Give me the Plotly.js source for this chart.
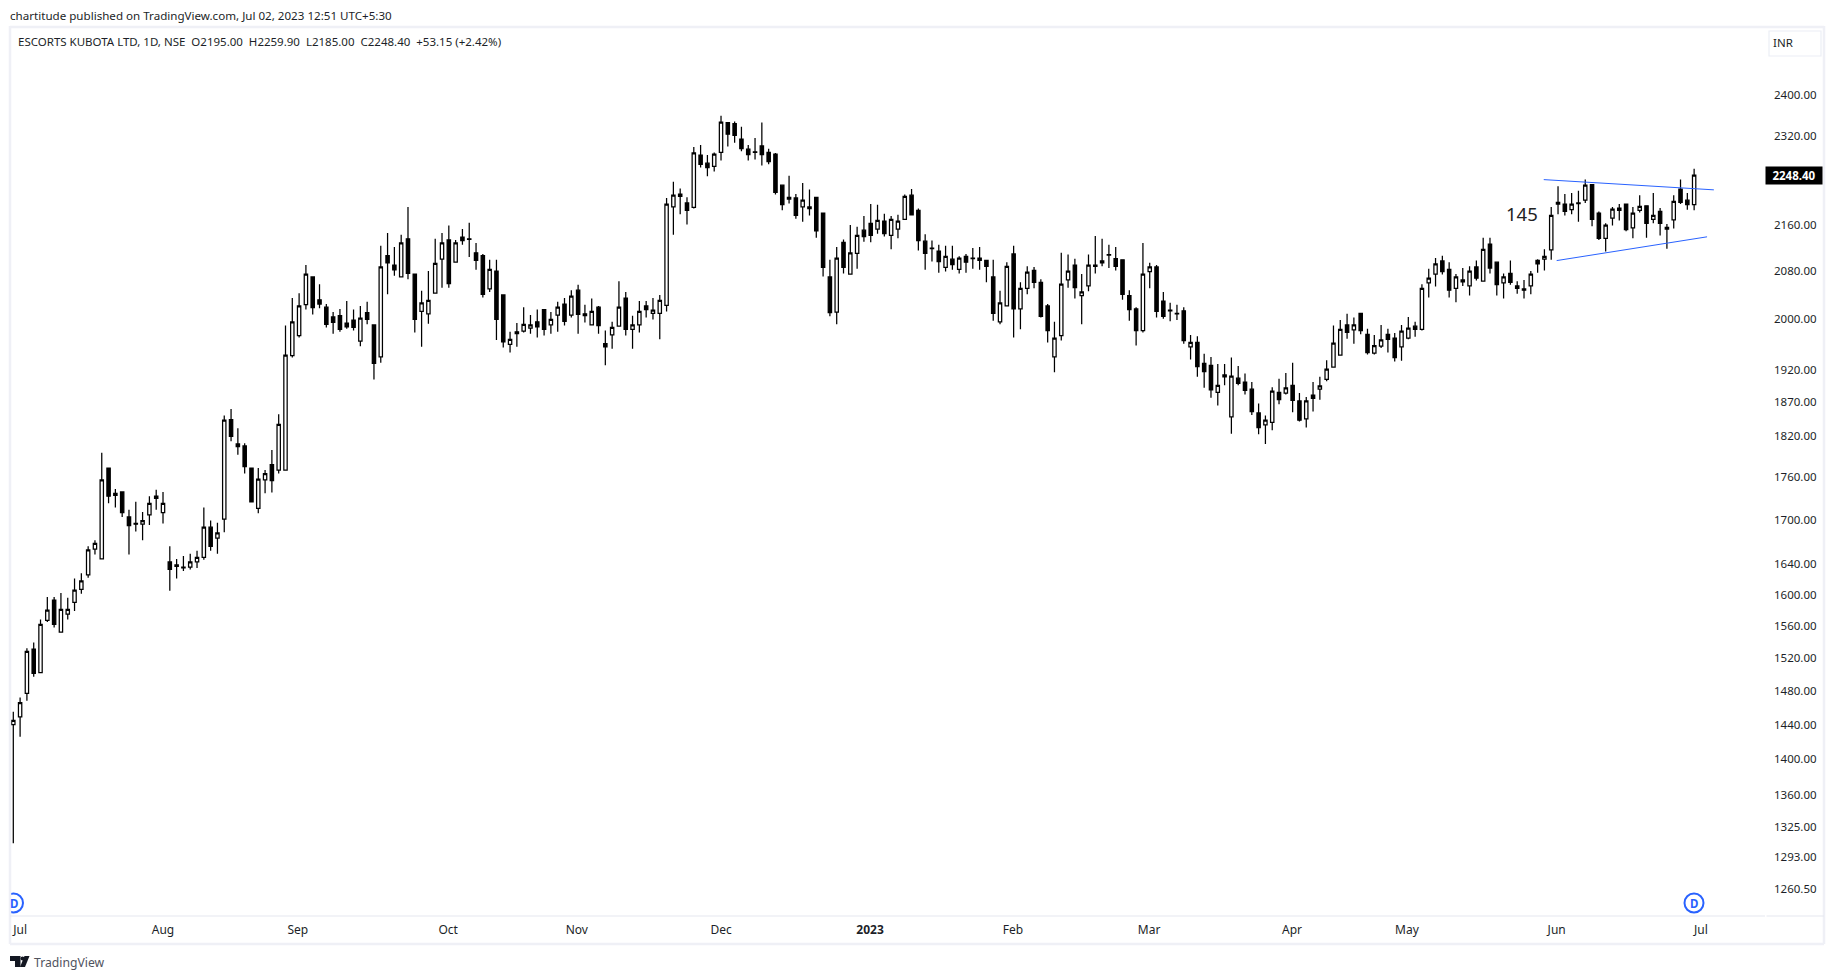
<!DOCTYPE html>
<html><head><meta charset="utf-8">
<script src="https://cdn.plot.ly/plotly-3.0.1.min.js"></script>
<style>html,body{margin:0;padding:0;background:#fff}#c{width:1835px;height:979px}</style>
</head><body><div id="c"></div>
<script>
const open=[1440,1449,1477,1531,1502,1567,1593,1552,1575,1590,
1607,1626,1660,1647,1773,1734,1739,1704,1695,1694,
1707,1730,1710,1643,1639,1636,1636,1643,1649,1690,
1675,1701,1844,1808,1805,1773,1716,1756,1778,1770,
1770,1942,1974,2024,2070,2032,2020,2004,2006,1994,
1999,1965,2011,1991,1940,2106,2090,2070,2135,2075,
2013,2009,2043,2100,2133,2095,2138,2135,2111,2106,
2050,2080,2040,1960,1980,1981,1986,1996,2016,1991,
2007,2025,2007,2048,2009,1991,2020,1961,1975,1989,
2035,1984,1991,2022,2010,2010,2023,2191,2210,2198,
2190,2285,2270,2264,2290,2346,2344,2315,2296,2291,
2302,2290,2287,2230,2205,2207,2191,2191,2208,2180,
2070,2012,2129,2075,2110,2150,2162,2152,2166,2141,
2152,2169,2212,2185,2131,2119,2114,2086,2100,2083,
2105,2102,2102,2098,2070,1996,2022,2109,2017,2051,
2081,2061,2022,1940,1974,2065,2090,2039,2055,2090,
2097,2108,2101,2099,2039,2017,1982,2079,2087,2030,
2015,2010,2014,1956,1963,1930,1927,1885,1912,1848,
1907,1901,1890,1854,1836,1840,1885,1884,1896,1872,
1845,1881,1890,1905,1924,1943,1991,1983,2010,1976,
1946,1957,1976,1970,1956,1970,1989,1984,2060,2075,
2097,2083,2051,2065,2055,2087,2063,2126,2095,2060,
2076,2055,2050,2055,2098,2100,2116,2199,2196,2186,
2198,2203,2231,2180,2136,2171,2189,2196,2154,2185,
2193,2169,2183,2152,2168,2223,2203,2195];
const close=[1445,1466,1528,1501,1562,1580,1562,1581,1581,1606,
1618,1659,1668,1756,1733,1737,1710,1692,1694,1699,
1723,1733,1723,1633,1637,1635,1643,1649,1690,1664,
1682,1843,1819,1804,1775,1725,1757,1765,1755,1837,
1943,1996,2022,2075,2019,2025,1992,1995,1984,1988,
1987,2002,2000,1930,2087,2094,2082,2128,2076,2000,
2027,2031,2093,2128,2059,2128,2132,2134,2098,2041,
2083,2000,1964,1968,1977,1992,1991,1988,1984,2000,
2020,1997,2038,2008,2006,2013,1990,1956,1987,2020,
1984,1991,2013,2016,2015,2031,2196,2212,2214,2185,
2289,2268,2262,2287,2347,2324,2322,2297,2286,2290,
2286,2273,2217,2195,2208,2176,2203,2188,2149,2086,
2011,2102,2086,2111,2141,2139,2141,2167,2144,2169,
2166,2210,2177,2132,2110,2118,2096,2105,2091,2102,
2095,2101,2098,2088,2010,2027,2088,2017,2051,2078,
2061,2005,1982,1970,2058,2080,2052,2045,2090,2088,
2094,2107,2088,2041,2016,1982,2075,2087,2013,2005,
2014,2009,1966,1963,1925,1917,1889,1896,1909,1910,
1899,1888,1856,1832,1843,1887,1874,1892,1873,1843,
1872,1876,1895,1921,1962,1984,1979,1991,1982,1947,
1958,1967,1968,1939,1981,1986,1984,2051,2068,2092,
2079,2048,2070,2062,2080,2068,2117,2085,2057,2070,
2061,2051,2048,2075,2092,2105,2176,2196,2183,2196,
2197,2230,2169,2136,2159,2187,2185,2151,2180,2192,
2162,2176,2162,2155,2201,2199,2195,2248.4];
const high=[1455,1472,1532,1539,1568,1597,1597,1602,1596,1621,
1628,1664,1672,1795,1773,1743,1739,1714,1725,1711,
1733,1742,1739,1664,1647,1651,1654,1658,1717,1699,
1696,1850,1860,1831,1809,1773,1773,1770,1799,1852,
1990,2035,2043,2090,2070,2058,2025,2012,2017,2030,
2016,2022,2029,1991,2123,2145,2121,2142,2191,2075,
2047,2080,2135,2145,2158,2133,2152,2163,2128,2109,
2099,2099,2040,1980,1994,2020,2007,2016,2016,2012,
2029,2035,2048,2057,2024,2034,2022,1982,1996,2063,
2045,2006,2030,2030,2035,2040,2207,2236,2224,2208,
2300,2304,2285,2290,2359,2346,2348,2338,2304,2317,
2346,2297,2289,2230,2247,2214,2234,2222,2208,2180,
2099,2121,2134,2159,2156,2175,2196,2195,2179,2175,
2177,2213,2223,2188,2143,2132,2125,2123,2123,2105,
2109,2119,2121,2098,2099,2047,2095,2123,2061,2088,
2087,2066,2025,1996,2111,2108,2101,2075,2108,2140,
2135,2125,2121,2099,2048,2020,2128,2094,2090,2045,
2027,2024,2020,1975,1973,1945,1940,1929,1929,1939,
1926,1914,1901,1868,1850,1893,1906,1915,1931,1884,
1878,1901,1909,1935,1990,1999,2009,2003,2010,1985,
1975,1991,1985,1978,1991,2004,1996,2058,2084,2102,
2106,2095,2075,2085,2088,2098,2137,2137,2095,2076,
2098,2063,2065,2080,2100,2117,2191,2228,2214,2216,
2220,2240,2232,2183,2162,2191,2196,2196,2191,2212,
2194,2216,2189,2161,2212,2240,2216,2259.9];
const low=[1308,1426,1468,1497,1502,1565,1558,1552,1568,1579,
1601,1622,1653,1647,1723,1717,1704,1653,1684,1672,
1693,1714,1695,1605,1621,1631,1633,1635,1646,1658,
1654,1683,1812,1792,1765,1724,1709,1737,1738,1765,
1770,1939,1971,2016,2008,2018,1987,1977,1980,1985,
1982,1957,1992,1905,1931,2041,2072,2070,2066,1979,
1956,1993,2043,2052,2052,2095,2125,2104,2082,2036,
2045,1967,1955,1947,1956,1979,1977,1971,1974,1977,
1980,1990,2003,1977,1995,1991,1977,1927,1953,1989,
1974,1953,1979,2003,2000,1968,2013,2142,2178,2160,
2188,2262,2246,2255,2275,2301,2308,2292,2275,2277,
2266,2268,2213,2185,2197,2170,2165,2176,2137,2071,
2005,1992,2076,2075,2084,2130,2129,2144,2139,2117,
2136,2169,2177,2115,2082,2096,2077,2079,2082,2076,
2077,2084,2082,2061,1998,1992,2022,1971,1984,2041,
2051,2003,1963,1916,1966,2052,2034,1992,2046,2076,
2088,2085,2081,2032,1998,1958,1979,2051,2003,2001,
1997,1999,1961,1936,1909,1892,1877,1865,1896,1823,
1896,1882,1851,1822,1808,1828,1867,1882,1855,1841,
1832,1856,1874,1902,1924,1943,1969,1961,1976,1944,
1944,1954,1947,1933,1934,1968,1972,1982,2036,2054,
2074,2036,2028,2055,2039,2064,2063,2076,2039,2034,
2057,2042,2034,2041,2077,2081,2099,2178,2176,2178,
2165,2198,2157,2133,2113,2158,2167,2148,2136,2181,
2137,2162,2141,2118,2153,2196,2186,2185];
const sessions=open.map((_,i)=>i);

const priceTicks=[2400,2320,2160,2080,2000,1920,1870,1820,1760,1700,1640,1600,1560,1520,1480,1440,1400,1360,1325,1293,1260.5];
const monthTickPos=[1,22,41.8,63.9,82.8,104,125.9,146.9,166.9,187.9,204.8,226.8,248];
const monthTickText=['Jul','Aug','Sep','Oct','Nov','Dec','<b>2023</b>','Feb','Mar','Apr','May','Jun','Jul'];

const upperTrendX=[224.9,249.9], upperTrendY=[2240,2221.5];
const lowerTrendX=[226.8,248.9], lowerTrendY=[2097.7,2138.5];

const FONT='"Noto Sans", sans-serif';
const TXT='#1c1f28';
const L=11,R=1765,T=28,B=916;
const px=x=>(x-L)/(R-L), py=y=>1-(y-T)/(B-T);
const FRAME='#eff0f6';
const rule=(x0,y0,x1,y1,c,w)=>({type:'line',xref:'paper',yref:'paper',x0:px(x0),y0:py(y0),x1:px(x1),y1:py(y1),line:{color:c,width:w},layer:'above'});
const label=(text,x,y,size,color,anchor)=>({text,xref:'paper',yref:'paper',x:px(x),y:py(y),xanchor:anchor||'left',yanchor:'middle',showarrow:false,font:{family:FONT,size,color},borderpad:0});
const circle=(cx,cy,r)=>({type:'circle',xref:'paper',yref:'paper',x0:px(cx-r),x1:px(cx+r),y0:py(cy+r),y1:py(cy-r),line:{color:'#2962ff',width:2},fillcolor:'#fff',layer:'above'});
const P=(x,y)=>px(x).toFixed(5)+','+py(y).toFixed(5);

const traces=[
 {type:'candlestick',x:sessions,open,high,low,close,hoverinfo:'skip',whiskerwidth:0,
  increasing:{line:{color:'#000',width:1.25},fillcolor:'#fff'},
  decreasing:{line:{color:'#000',width:1.25},fillcolor:'#000'}},
 {type:'scatter',mode:'lines',x:upperTrendX,y:upperTrendY,line:{color:'#2962ff',width:1},hoverinfo:'skip'},
 {type:'scatter',mode:'lines',x:lowerTrendX,y:lowerTrendY,line:{color:'#2962ff',width:1},hoverinfo:'skip'}
];
const layout={
 width:1835,height:979,margin:{l:L,r:1835-R,t:T,b:979-B,pad:0},paper_bgcolor:'#fff',plot_bgcolor:'#fff',showlegend:false,
 xaxis:{type:'linear',range:[(L-13.3)/6.805,(R-13.3)/6.805],rangeslider:{visible:false},tickmode:'array',tickvals:monthTickPos,ticktext:monthTickText,showgrid:false,zeroline:false,showline:false,ticks:'',ticklabelstandoff:5,tickangle:0,tickfont:{family:FONT,size:12,color:TXT},automargin:false,fixedrange:true},
 yaxis:{type:'log',side:'right',range:[Math.log10(1233),Math.log10(2533)],tickmode:'array',tickvals:priceTicks,ticktext:priceTicks.map(v=>v.toFixed(2)),showgrid:false,zeroline:false,showline:false,ticks:'',ticklabelstandoff:8,tickfont:{family:FONT,size:11.5,color:TXT},automargin:false,fixedrange:true},
 shapes:[
  circle(13.5,903,9.5),
  circle(1694,903,9.5),
  {type:'rect',xref:'paper',yref:'paper',x0:px(0),x1:px(9.5),y0:py(918),y1:py(888),fillcolor:'#fff',line:{width:0},layer:'above'},
  rule(10,27,1824,27,FRAME,2.5),
  rule(10,26,10,944,FRAME,2.5),
  rule(1824,26,1824,944,FRAME,2.5),
  rule(10,944,1824,944,FRAME,2.5),
  rule(10,916,1765,916,'#e6e8f0',1.2),
  rule(1766.5,916,1824,916,'#e6e8f0',1.2),
  {type:'rect',xref:'paper',yref:'paper',x0:px(1769),x1:px(1821),y0:py(56),y1:py(31),fillcolor:'#fff',line:{color:'#eceef5',width:1.2},layer:'above'},
  {type:'path',xref:'paper',yref:'paper',fillcolor:'#131722',line:{width:0},layer:'above',
   path:'M'+P(10,956)+'L'+P(20.5,956)+'L'+P(20.5,967)+'L'+P(15,967)+'L'+P(15,961)+'L'+P(10,961)+'Z'},
  {type:'circle',xref:'paper',yref:'paper',x0:px(20.5),x1:px(24.5),y0:py(960.5),y1:py(956.5),fillcolor:'#131722',line:{width:0},layer:'above'},
  {type:'path',xref:'paper',yref:'paper',fillcolor:'#131722',line:{width:0},layer:'above',
   path:'M'+P(24.5,956)+'L'+P(29.5,956)+'L'+P(25,967)+'L'+P(20,967)+'Z'}
 ],
 annotations:[
  label('chartitude published on TradingView.com, Jul 02, 2023 12:51 UTC+5:30',9,15,11.6,TXT),
  label('ESCORTS KUBOTA LTD, 1D, NSE\u00a0\u00a0O2195.00\u00a0\u00a0H2259.90\u00a0\u00a0L2185.00\u00a0\u00a0C2248.40\u00a0\u00a0+53.15 (+2.42%)',17,41.5,11.5,TXT),
  label('INR',1772,43,11.5,TXT),
  label('TradingView',32.5,962,12.2,'#50535e'),
  label('<b>D</b>',14,903,11.5,'#2962ff','center'),
  label('<b>D</b>',1694,903,11.5,'#2962ff','center'),
  {text:'145',xref:'x',yref:'y',x:221.7,y:Math.log10(2180),xanchor:'center',yanchor:'middle',showarrow:false,font:{family:FONT,size:18.5,color:'#222'}},
  {text:'<b>'+close[close.length-1].toFixed(2)+'</b>',xref:'paper',yref:'y',x:px(1765),y:Math.log10(close[close.length-1]),xanchor:'left',yanchor:'middle',showarrow:false,
   width:56,height:17,align:'center',bgcolor:'#000',borderpad:0,font:{family:FONT,size:11.5,color:'#fff'}}
 ]
};
Plotly.newPlot('c',traces,layout,{staticPlot:true,displayModeBar:false});
</script></body></html>
